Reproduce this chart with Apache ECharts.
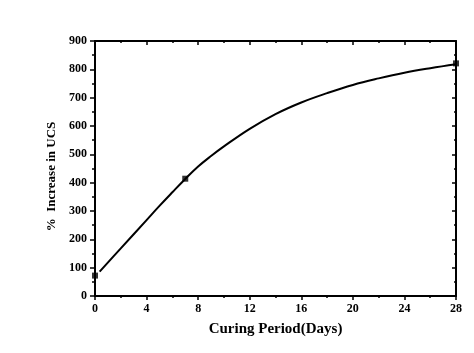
<!DOCTYPE html>
<html>
<head>
<meta charset="utf-8">
<script src="https://cdn.jsdelivr.net/npm/echarts@6/dist/echarts.min.js"></script>
<style>
  html, body { margin: 0; padding: 0; background: #fff; }
  #chart { width: 474px; height: 353px; }
</style>
</head>
<body>
<div id="chart"></div>
<script>
// fitted curve
const curveDays = [0.36, 2, 4, 5, 6, 7, 8, 9, 10, 12, 14, 16, 18, 20, 22, 24, 26, 28]
const curveUcs = [86, 168, 268, 318, 366, 413, 457, 494, 528, 590, 642, 683, 716, 745, 768, 788, 804, 818]
// measured points
const pointDays = [0, 7, 28]
const pointUcs = [72, 414, 821]

const font = 'Liberation Serif'
const chart = echarts.init(document.getElementById('chart'))

const baseX = {
  type: 'value',
  min: 0,
  max: 28,
  interval: 4,
  splitLine: { show: false },
  axisLine: { onZero: false, lineStyle: { color: '#000', width: 2 } }
}
const baseY = {
  type: 'value',
  min: 0,
  max: 900,
  interval: 100,
  splitLine: { show: false },
  axisLine: { onZero: false, lineStyle: { color: '#000', width: 2 } }
}

const option = {
  animation: false,
  grid: { left: 95, right: 18, top: 41, bottom: 57 },
  xAxis: [
    {
      ...baseX,
      position: 'bottom',
      name: 'Curing Period(Days)',
      nameLocation: 'middle',
      nameGap: 26,
      nameTextStyle: { fontFamily: font, fontWeight: 'bold', fontSize: 15, color: '#000' },
      axisTick: { length: 4, lineStyle: { color: '#000', width: 1.5 } },
      minorTick: { show: true, splitNumber: 2, length: 2, lineStyle: { color: '#000', width: 1.5 } },
      axisLabel: { fontFamily: font, fontWeight: 'bold', fontSize: 12, color: '#000', margin: 7 }
    },
    {
      ...baseX,
      position: 'top',
      axisLabel: { show: false },
      axisTick: { inside: true, length: 4, lineStyle: { color: '#000', width: 1.5 } },
      minorTick: { show: true, splitNumber: 2, length: 2, lineStyle: { color: '#000', width: 1.5 } }
    }
  ],
  yAxis: [
    {
      ...baseY,
      position: 'left',
      name: '%  Increase in UCS',
      nameLocation: 'middle',
      nameGap: 37,
      nameTextStyle: { fontFamily: font, fontWeight: 'bold', fontSize: 13, color: '#000', padding: [0, 16, 0, 0] },
      axisTick: { length: 5, lineStyle: { color: '#000', width: 1.5 } },
      minorTick: { show: true, splitNumber: 2, length: 3, lineStyle: { color: '#000', width: 1.5 } },
      axisLabel: { fontFamily: font, fontWeight: 'bold', fontSize: 12, color: '#000', margin: 8 }
    },
    {
      ...baseY,
      position: 'right',
      axisLabel: { show: false },
      axisTick: { inside: true, length: 4, lineStyle: { color: '#000', width: 1.5 } },
      minorTick: { show: true, splitNumber: 2, length: 2, lineStyle: { color: '#000', width: 1.5 } }
    }
  ],
  series: [
    {
      type: 'line',
      smooth: 0.4,
      showSymbol: false,
      lineStyle: { color: '#000', width: 2 },
      data: curveDays.map((d, i) => [d, curveUcs[i]])
    },
    {
      type: 'scatter',
      symbol: 'rect',
      symbolSize: 6,
      itemStyle: { color: '#000' },
      data: pointDays.map((d, i) => [d, pointUcs[i]])
    }
  ]
}
chart.setOption(option)
</script>
</body>
</html>
